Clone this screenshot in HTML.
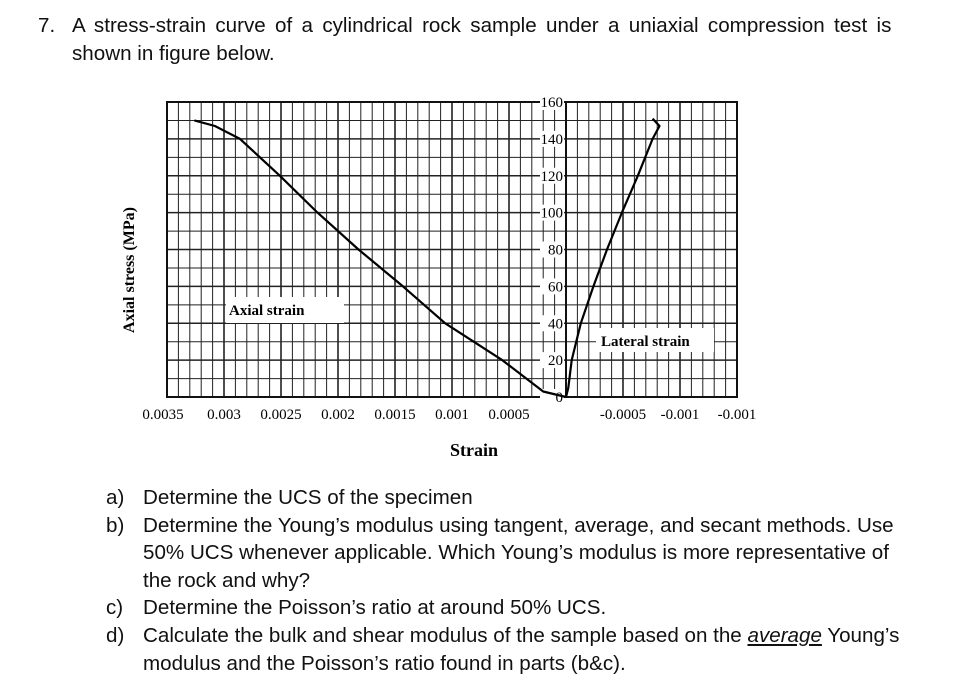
<!DOCTYPE html>
<html><head><meta charset="utf-8"><style>
body{margin:0;background:#fff;width:973px;height:694px;overflow:hidden;position:relative;font-family:"Liberation Sans",Arial,sans-serif;color:#111}
.t{position:absolute;font-size:20.6px;line-height:27.6px;white-space:nowrap}
svg{position:absolute;left:0;top:0}
</style></head><body>
<div class="t" style="left:38px;top:12px;line-height:28px">7.</div>
<div class="t" style="left:72px;top:12px;line-height:28px"><span style="word-spacing:3.6px">A stress-strain curve of a cylindrical rock sample under a uniaxial compression test is</span><br>shown in figure below.</div>

<svg width="973" height="694">
<g id="grid"></g>
<g id="curves"></g>
<g id="labels" font-family="Liberation Serif, Times New Roman, serif"></g>
</svg>

<div class="t" style="left:106px;top:484px">a)</div>
<div class="t" style="left:143px;top:484px">Determine the UCS of the specimen</div>
<div class="t" style="left:106px;top:511.6px">b)</div>
<div class="t" style="left:143px;top:511.6px">Determine the Young’s modulus using tangent, average, and secant methods. Use<br>50% UCS whenever applicable. Which Young’s modulus is more representative of<br>the rock and why?</div>
<div class="t" style="left:106px;top:594.4px">c)</div>
<div class="t" style="left:143px;top:594.4px">Determine the Poisson’s ratio at around 50% UCS.</div>
<div class="t" style="left:106px;top:622px">d)</div>
<div class="t" style="left:143px;top:622px">Calculate the bulk and shear modulus of the sample based on the <i><u>average</u></i> Young’s<br>modulus and the Poisson’s ratio found in parts (b&amp;c).</div>

<script>
const xTickValues=[0.0035,0.003,0.0025,0.002,0.0015,0.001,0.0005,-0.0005,-0.001,-0.0015];
const xTickLabels=["0.0035","0.003","0.0025","0.002","0.0015","0.001","0.0005","-0.0005","-0.001","-0.001"];
const yTickValues=[0,20,40,60,80,100,120,140,160];
const axialStrain=[0,0.0002,0.00056,0.00106,0.00143,0.00182,0.00218,0.00251,0.00286,0.00308,0.00326];
const axialStress=[0,3,20,40,60,80,100,120,140,147,150];
const lateralStrain=[0,-0.00002,-0.00005,-0.00013,-0.00024,-0.00036,-0.00049,-0.00063,-0.00076,-0.00082,-0.00076];
const lateralStress=[0,5,20,40,60,80,100,120,140,147,151];

const NS='http://www.w3.org/2000/svg';
const X0=167,X1=737,Y0=397,Y1=102;
const xs=v=>X0+(0.0035-v)/0.005*(X1-X0);
const ys=v=>Y0-v/160*(Y0-Y1);
function mk(tag,attrs,parent){const e=document.createElementNS(NS,tag);for(const k in attrs)e.setAttribute(k,attrs[k]);parent.appendChild(e);return e;}
const grid=document.getElementById('grid'),curves=document.getElementById('curves'),labels=document.getElementById('labels');
for(let i=0;i<=50;i++){const v=0.0035-i*0.0001;const major=i%5===0;
  const l=mk('line',{x1:xs(v),x2:xs(v),y1:Y1,y2:Y0,stroke:'#222','stroke-width':major?1.6:1},grid);
  }
for(let i=0;i<=16;i++){const v=i*10;
  const l=mk('line',{x1:X0,x2:X1,y1:ys(v),y2:ys(v),stroke:'#222','stroke-width':i%2===0?1.6:1},grid);
  }
const fr=mk('rect',{x:X0,y:Y1,width:X1-X0,height:Y0-Y1,fill:'none',stroke:'#111','stroke-width':2},grid);

const ya=mk('line',{x1:xs(0),x2:xs(0),y1:Y1,y2:Y0,stroke:'#111','stroke-width':2},grid);

const lb1=mk('rect',{x:226,y:297,width:118,height:26,fill:'#fff'},grid);

const lb2=mk('rect',{x:596,y:328,width:118,height:24,fill:'#fff'},grid);

yTickValues.forEach(v=>{const bg=mk('rect',{x:xs(0)-26,y:ys(v)-8,width:24,height:16,fill:'#fff'},grid);
  
  const t=mk('text',{x:xs(0)-3,y:ys(v)+5,'text-anchor':'end','font-size':15},labels);t.textContent=v;
  });
xTickValues.forEach((v,i)=>{const t=mk('text',{x:xs(v)-(i===0?4:0),y:419,'text-anchor':'middle','font-size':15},labels);t.textContent=xTickLabels[i];
  });
function path(xsArr,ysArr,name){let d='';xsArr.forEach((s,i)=>{d+=(i?'L':'M')+xs(s).toFixed(1)+','+ys(ysArr[i]).toFixed(1);});
  const p=mk('path',{d:d,fill:'none',stroke:'#000','stroke-width':2.2,'stroke-linejoin':'round'},curves);
  }
path(axialStrain,axialStress,'axial-strain-curve');
path(lateralStrain,lateralStress,'lateral-strain-curve');
const a=mk('text',{x:229,y:315,'font-size':15,'font-weight':'bold'},labels);a.textContent='Axial strain';

const b=mk('text',{x:601,y:346,'font-size':15,'font-weight':'bold'},labels);b.textContent='Lateral strain';

const xt=mk('text',{x:474,y:456,'text-anchor':'middle','font-size':18,'font-weight':'bold'},labels);xt.textContent='Strain';

const yt=mk('text',{x:0,y:0,'text-anchor':'middle','font-size':16,'font-weight':'bold',transform:'translate(134,270) rotate(-90)'},labels);yt.textContent='Axial stress (MPa)';

</script>
</body></html>
